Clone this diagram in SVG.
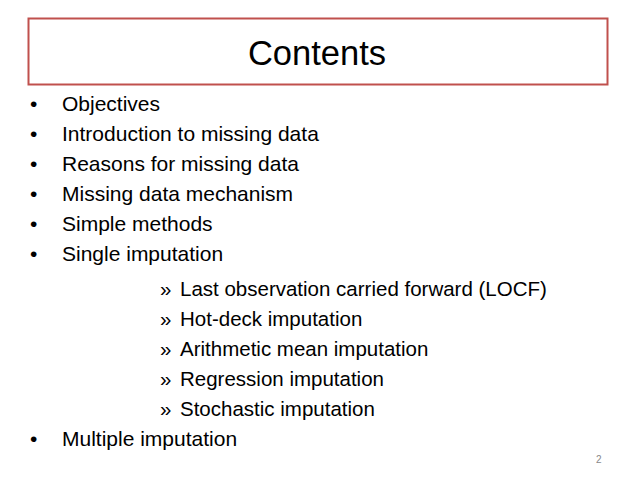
<svg xmlns="http://www.w3.org/2000/svg" width="638" height="478" viewBox="0 0 638 478">
<style>
text{font-family:"Liberation Sans","DejaVu Sans",sans-serif;fill:#000}
.b{font-size:21px}
.s{font-size:20.5px}
</style>
<rect width="638" height="478" fill="#fff"/>
<g id="title"><rect x="28.5" y="18.5" width="579" height="66" fill="none" stroke="#c0504d" stroke-width="2"/>
<text x="317" y="65" font-size="34.5" text-anchor="middle">Contents</text></g>
<g id="bullets">
<g class="b"><text x="30" y="111">•</text><text x="30" y="141">•</text><text x="30" y="171">•</text><text x="30" y="201">•</text><text x="30" y="231">•</text><text x="30" y="261">•</text><text x="30" y="446">•</text></g>
<text class="b" x="62" y="111">Objectives</text>
<text class="b" x="62" y="141">Introduction to missing data</text>
<text class="b" x="62" y="171">Reasons for missing data</text>
<text class="b" x="62" y="201">Missing data mechanism</text>
<text class="b" x="62" y="231">Simple methods</text>
<text class="b" x="62" y="261">Single imputation</text>
<g class="s"><text x="160" y="296">»</text><text x="160" y="326">»</text><text x="160" y="356">»</text><text x="160" y="386">»</text><text x="160" y="416">»</text></g>
<text class="s" x="180" y="296">Last observation carried forward (LOCF)</text>
<text class="s" x="180" y="326">Hot-deck imputation</text>
<text class="s" x="180" y="356">Arithmetic mean imputation</text>
<text class="s" x="180" y="386">Regression imputation</text>
<text class="s" x="180" y="416">Stochastic imputation</text>
<text class="b" x="62" y="446">Multiple imputation</text>
</g>
<text x="596" y="463" font-size="10" style="fill:#888">2</text>
</svg>
